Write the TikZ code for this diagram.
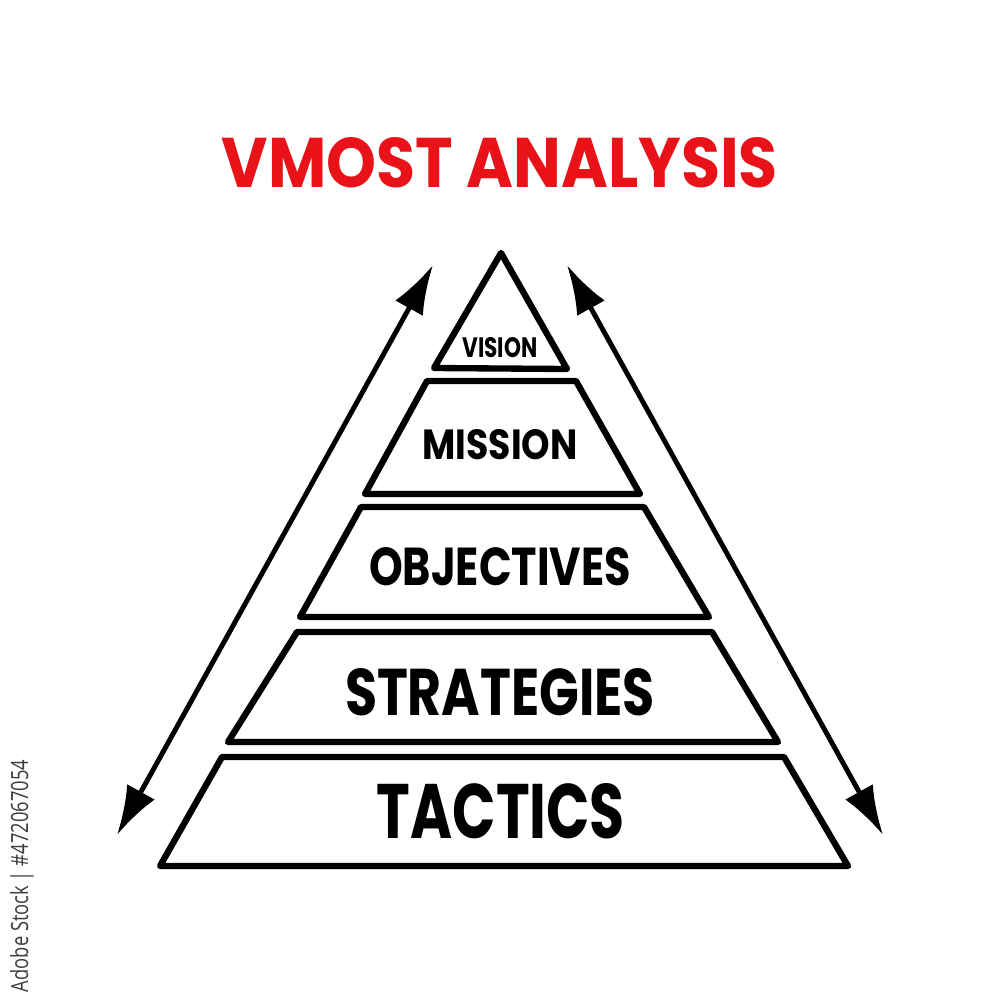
\documentclass[tikz,border=0pt]{standalone}
\usepackage{fontspec}
\usepackage{graphicx}
\newfontfamily\handfont{Poppins}
\newfontfamily\wmfont{Open Sans}
\usetikzlibrary{arrows.meta}
\newlength\pxu
\setlength\pxu{0.01cm}
\newcommand{\fitbox}[3]{\resizebox{#1\pxu}{#2\pxu}{#3}}
\definecolor{titlered}{RGB}{232,18,24}
\definecolor{wmgray}{RGB}{60,60,60}
\begin{document}
\begin{tikzpicture}[x=0.01cm,y=-0.01cm,
  tier/.style={draw=black, line width=1.8pt, line join=round, fill=white},
  dblarrow/.style={line width=1.4pt, {Latex[length=14pt,width=9pt]}-{Latex[length=14pt,width=9pt]}},
  tiertext/.style={inner sep=0pt, text=black, font=\handfont\bfseries},
  titletext/.style={inner sep=0pt, text=titlered, font=\handfont\bfseries}]
\useasboundingbox[fill=white] (0,0) rectangle (1000,1000);

% title
\node[titletext] (title) at (500,163) {\fitbox{556}{50}{VMOST ANALYSIS}};

% pyramid tiers
\draw[tier] (501,253) -- (567,369) -- (434,368) -- cycle;
\draw[tier] (427,381) -- (576,381) -- (640,494) -- (365,494) -- cycle;
\draw[tier] (361,507) -- (644,507) -- (709,617) -- (300,617) -- cycle;
\draw[tier] (297,632) -- (712,632) -- (778,742) -- (228,742) -- cycle;
\draw[tier] (222,757) -- (784,757) -- (848,866) -- (160,866) -- cycle;

% tier labels
\node[tiertext] (vision) at (500,348) {\fitbox{75}{20}{VISION}};
\node[tiertext] (mission) at (500,445) {\fitbox{155}{30}{MISSION}};
\node[tiertext] (objectives) at (500,567) {\fitbox{262}{38}{OBJECTIVES}};
\node[tiertext] (strategies) at (500,692) {\fitbox{310}{47}{STRATEGIES}};
\node[tiertext] (tactics) at (501,811) {\fitbox{248}{55}{TACTICS}};

% side arrows
\coordinate (lt) at (433,265);
\coordinate (lb) at (117,835);
\coordinate (rt) at (567,265);
\coordinate (rb) at (883,835);
\draw[dblarrow] (lb) -- (lt);
\draw[dblarrow] (rb) -- (rt);

% watermark
\node[rotate=90, text=wmgray, inner sep=0pt] (wm) at (22,876)
  {\wmfont\resizebox{232\pxu}{18\pxu}{Adobe Stock | \#472067054}};
\end{tikzpicture}
\end{document}
